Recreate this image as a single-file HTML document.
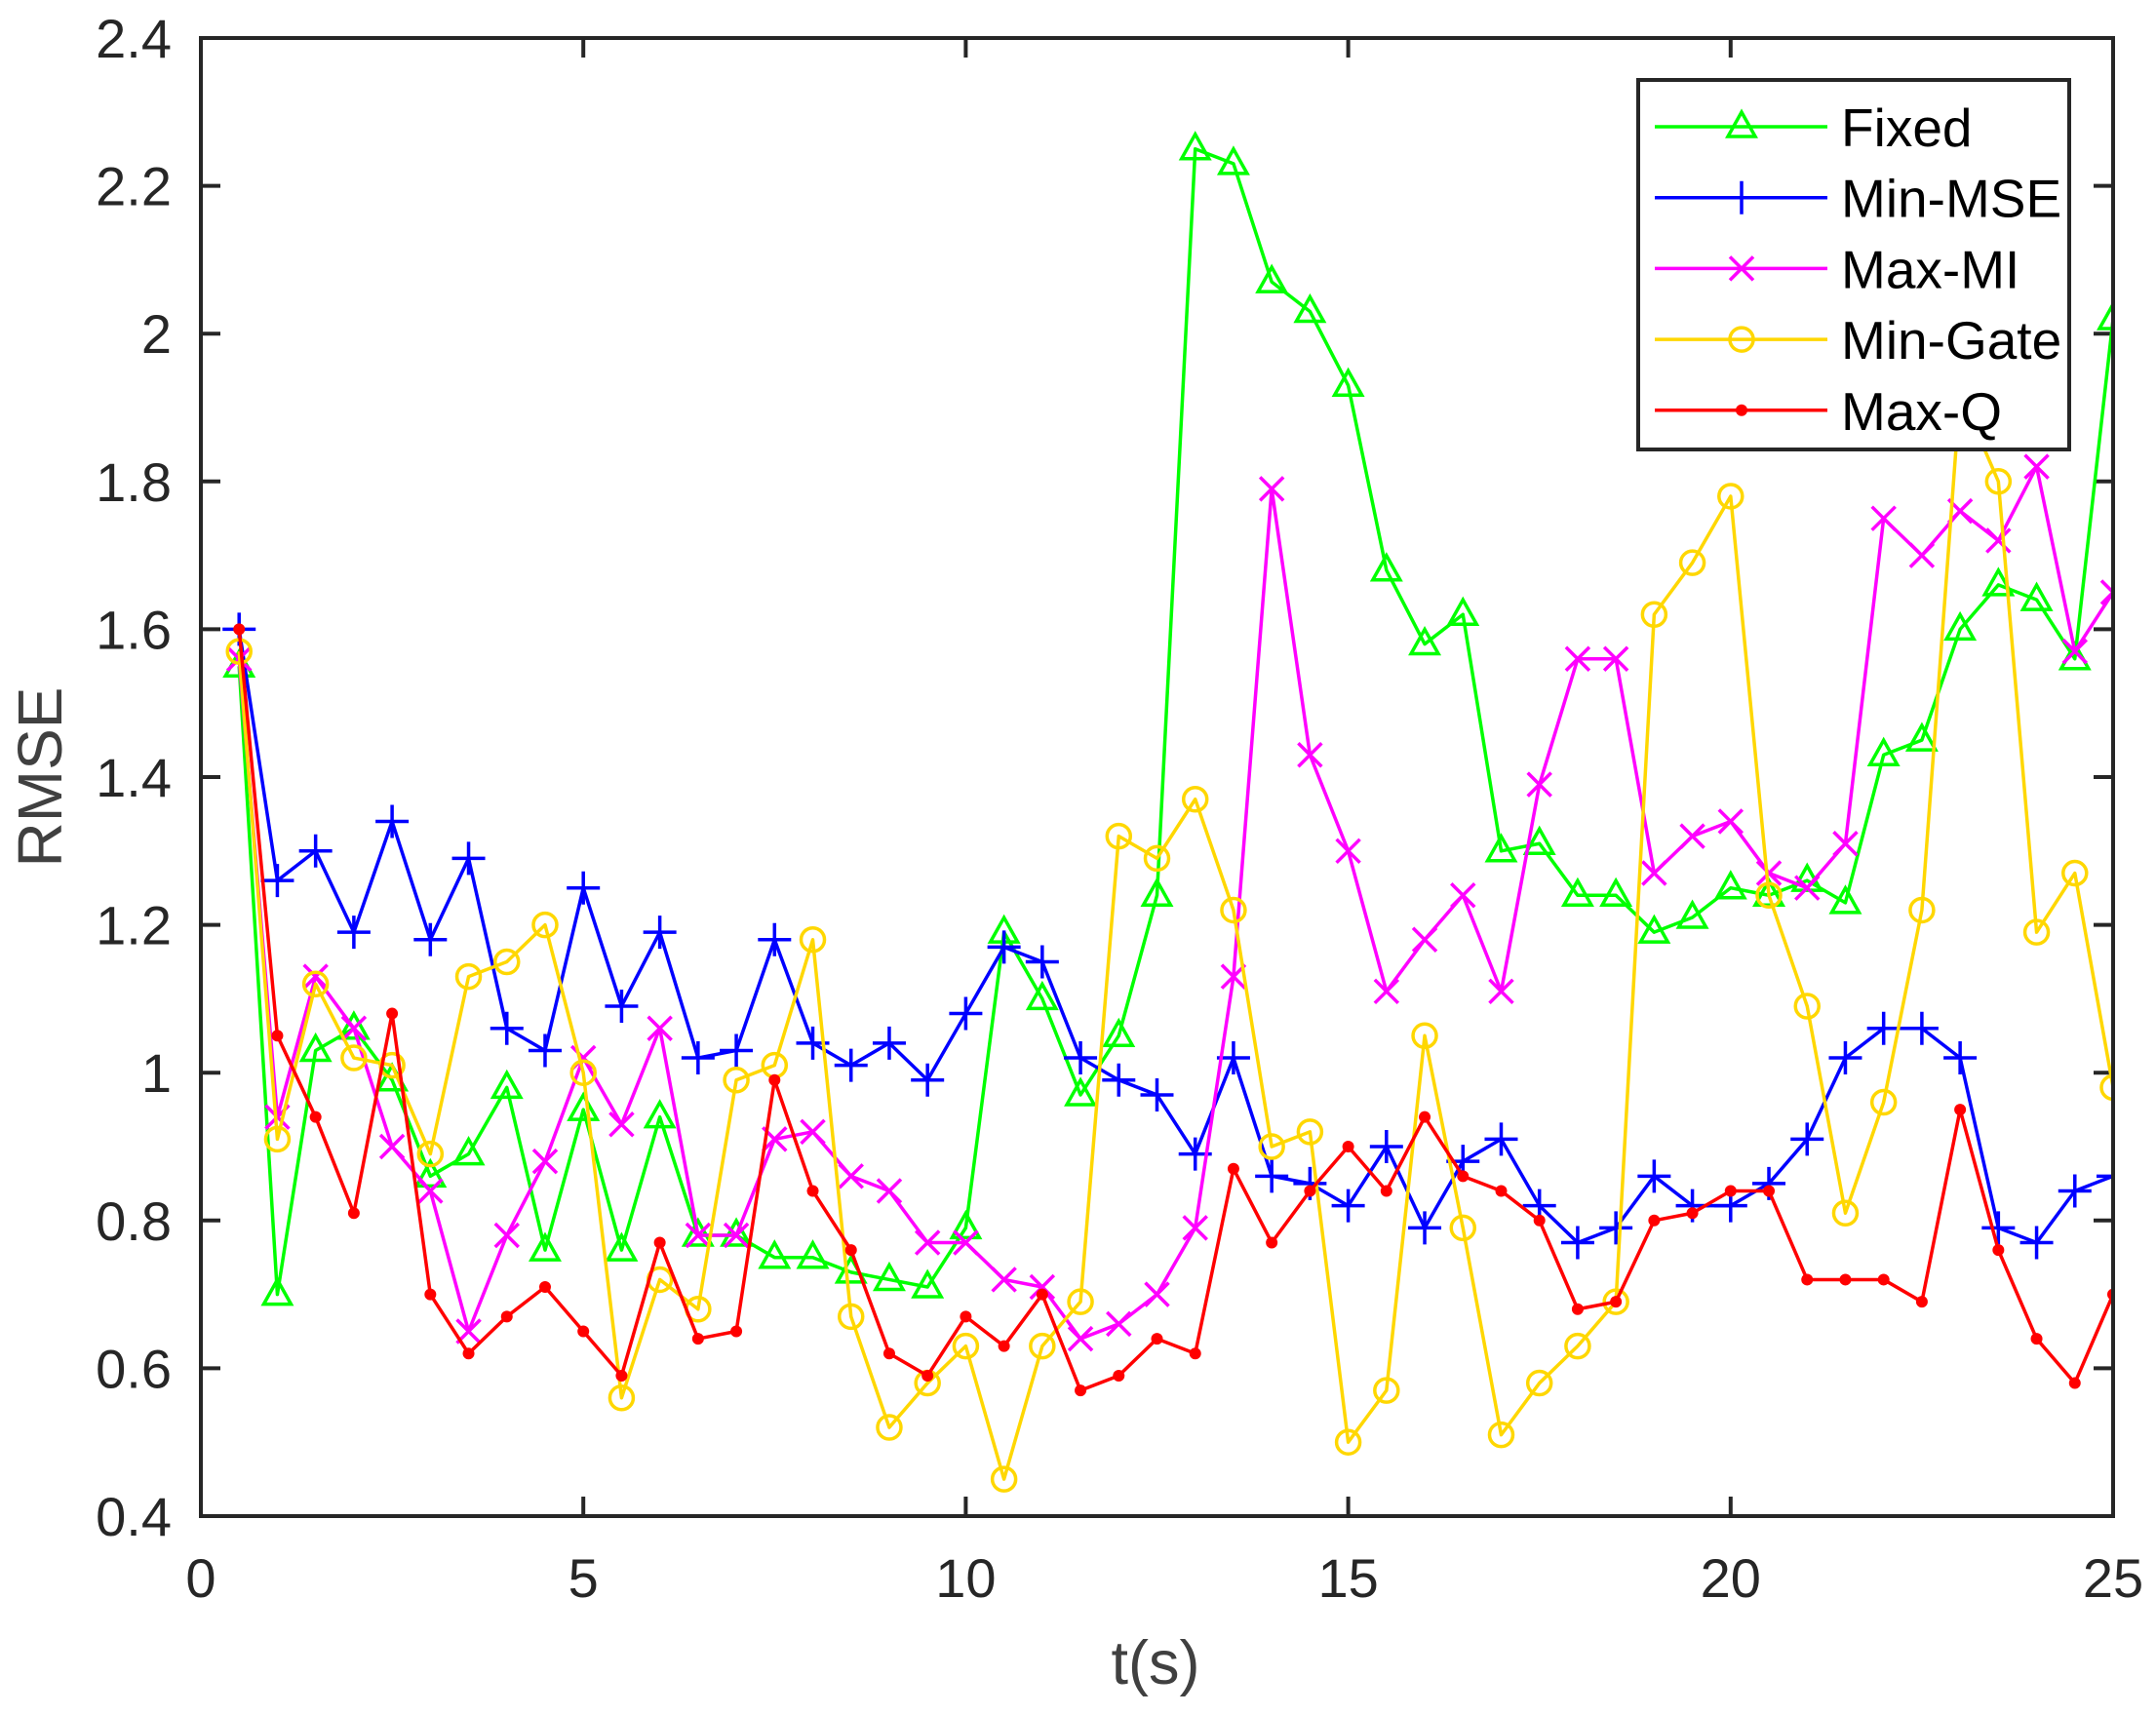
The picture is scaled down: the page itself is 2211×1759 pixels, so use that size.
<!DOCTYPE html>
<html><head><meta charset="utf-8">
<style>html,body{margin:0;padding:0;background:#fff;}svg{display:block;}</style>
</head><body>
<svg id="s" width="2211" height="1759" xmlns="http://www.w3.org/2000/svg" font-family="Liberation Sans, Arial, sans-serif"></svg>
<script>
const L=206,R=2167,T=39,B=1555;
const X=t=>L+t*(R-L)/25, Y=v=>B-(v-0.4)*(B-T)/2;
const fixed=[1.55,0.70,1.03,1.06,0.99,0.86,0.89,0.98,0.76,0.95,0.76,0.94,0.78,0.78,0.75,0.75,0.73,0.72,0.71,0.79,1.19,1.10,0.97,1.05,1.24,2.25,2.23,2.07,2.03,1.93,1.68,1.58,1.62,1.30,1.31,1.24,1.24,1.19,1.21,1.25,1.24,1.26,1.23,1.43,1.45,1.60,1.66,1.64,1.56,2.02];
const mse=[1.60,1.26,1.30,1.19,1.34,1.18,1.29,1.06,1.03,1.25,1.09,1.19,1.02,1.03,1.18,1.04,1.01,1.04,0.99,1.08,1.17,1.15,1.02,0.99,0.97,0.89,1.02,0.86,0.85,0.82,0.90,0.79,0.88,0.91,0.82,0.77,0.79,0.86,0.82,0.82,0.85,0.91,1.02,1.06,1.06,1.02,0.79,0.77,0.84,0.86];
const mi=[1.56,0.94,1.13,1.06,0.90,0.84,0.65,0.78,0.88,1.02,0.93,1.06,0.78,0.78,0.91,0.92,0.86,0.84,0.77,0.77,0.72,0.71,0.64,0.66,0.70,0.79,1.13,1.79,1.43,1.30,1.11,1.18,1.24,1.11,1.39,1.56,1.56,1.27,1.32,1.34,1.27,1.25,1.31,1.75,1.70,1.76,1.72,1.82,1.57,1.65];
const gate=[1.57,0.91,1.12,1.02,1.01,0.89,1.13,1.15,1.20,1.00,0.56,0.72,0.68,0.99,1.01,1.18,0.67,0.52,0.58,0.63,0.45,0.63,0.69,1.32,1.29,1.37,1.22,0.90,0.92,0.50,0.57,1.05,0.79,0.51,0.58,0.63,0.69,1.62,1.69,1.78,1.24,1.09,0.81,0.96,1.22,1.92,1.80,1.19,1.27,0.98];
const q=[1.60,1.05,0.94,0.81,1.08,0.70,0.62,0.67,0.71,0.65,0.59,0.77,0.64,0.65,0.99,0.84,0.76,0.62,0.59,0.67,0.63,0.70,0.57,0.59,0.64,0.62,0.87,0.77,0.84,0.90,0.84,0.94,0.86,0.84,0.80,0.68,0.69,0.80,0.81,0.84,0.84,0.72,0.72,0.72,0.69,0.95,0.76,0.64,0.58,0.70];
function mk(type,x,y,c){
 if(type=='tri')return `<polygon points="${x},${y-15} ${x-14},${y+10} ${x+14},${y+10}" fill="none" stroke="${c}" stroke-width="3.5"/>`;
 if(type=='plus')return `<path d="M${x-17},${y}H${x+17}M${x},${y-17}V${y+17}" stroke="${c}" stroke-width="3.5"/>`;
 if(type=='x')return `<path d="M${x-12},${y-12}L${x+12},${y+12}M${x-12},${y+12}L${x+12},${y-12}" stroke="${c}" stroke-width="3.5"/>`;
 if(type=='o')return `<circle cx="${x}" cy="${y}" r="12" fill="none" stroke="${c}" stroke-width="3.5"/>`;
 return `<circle cx="${x}" cy="${y}" r="6" fill="${c}"/>`;
}
let s='<defs><clipPath id="c"><rect x="'+L+'" y="'+T+'" width="'+(R-L)+'" height="'+(B-T)+'"/></clipPath></defs>';
for(let i=0;i<=10;i++){const v=0.4+i*0.2,y=Y(v);
 s+=`<path d="M${L},${y}h20M${R},${y}h-20" stroke="#262626" stroke-width="4"/>`;
 let lab=(Math.round(v*10)/10).toString();
 s+=`<text x="176" y="${y+20}" font-size="56" text-anchor="end" fill="#262626">${lab}</text>`;}
for(let t=0;t<=25;t+=5){const x=X(t);
 s+=`<path d="M${x},${B}v-20M${x},${T}v20" stroke="#262626" stroke-width="4"/>`;
 s+=`<text x="${x}" y="1638" font-size="56" text-anchor="middle" fill="#262626">${t}</text>`;}
const ser=[[fixed,'#00ff00','tri'],[mse,'#0000ff','plus'],[mi,'#ff00ff','x'],[gate,'#ffd700','o'],[q,'#ff0000','dot']];
s+='<g clip-path="url(#c)">';
for(const [d,c,m] of ser){
 const pts=d.map((v,i)=>[X(0.5+i*0.5),Y(v)]);
 s+=`<polyline points="${pts.map(p=>p.join(',')).join(' ')}" fill="none" stroke="${c}" stroke-width="3.5" stroke-linejoin="round"/>`;
 for(const p of pts)s+=mk(m,p[0],p[1],c);
}
s+='</g>';
s+=`<rect x="${L}" y="${T}" width="${R-L}" height="${B-T}" fill="none" stroke="#262626" stroke-width="4"/>`;
s+=`<rect x="1680" y="82" width="442" height="379" fill="#fff" stroke="#262626" stroke-width="4"/>`;
const names=['Fixed','Min-MSE','Max-MI','Min-Gate','Max-Q'];
ser.forEach(([d,c,m],i)=>{const y=130+i*72.7;
 s+=`<line x1="1697" y1="${y}" x2="1874" y2="${y}" stroke="${c}" stroke-width="3.5"/>`+mk(m,1786,y,c);
 s+=`<text x="1888" y="${y+20}" font-size="55" fill="#000">${names[i]}</text>`;});
s+=`<text x="1185" y="1727" font-size="63" text-anchor="middle" fill="#404040">t(s)</text>`;
s+=`<text transform="translate(63,797) rotate(-90)" font-size="64" text-anchor="middle" fill="#404040">RMSE</text>`;
document.getElementById('s').innerHTML=s;
</script>
</body></html>
